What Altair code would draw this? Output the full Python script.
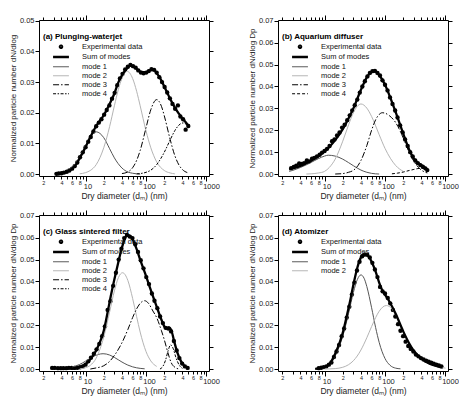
import altair as alt
import pandas as pd

FONT = "Liberation Sans"

# ---------------- Panel (a) Plunging-waterjet ----------------
A_DOT_D = [3.3, 3.6, 4.0, 4.4, 4.9, 5.4, 6.0, 6.6, 7.3, 8.1, 9.0, 10.0, 11.1, 12.2, 13.5, 15.0, 16.6,
           18.3, 20.3, 22.4, 24.8, 27.4, 30.3, 33.5, 37.0, 40.9, 45.2, 50.0, 55.2, 61.0, 67.5, 74.5,
           82.4, 91.1, 100.7, 111, 123, 136, 150, 166, 184, 203, 224, 248, 274, 303, 337, 370, 410, 452, 500]
A_DOT_Y = [0.0001, 0.0002, 0.0003, 0.0005, 0.0008, 0.0012, 0.0018, 0.0026, 0.0038, 0.0055, 0.0071,
           0.0088, 0.0106, 0.0121, 0.0139, 0.0156, 0.0168, 0.0179, 0.0194, 0.0209, 0.0224, 0.0246,
           0.0265, 0.0290, 0.0312, 0.0327, 0.0341, 0.0350, 0.0356, 0.0352, 0.0347, 0.0338, 0.0331,
           0.0329, 0.0331, 0.0336, 0.0342, 0.0340, 0.0331, 0.0316, 0.0300, 0.0284, 0.0266, 0.0247,
           0.0229, 0.0213, 0.0224, 0.0188, 0.0179, 0.0145, 0.0157]
A_SUM_D = [3.4, 4, 5, 6, 7, 8, 10, 12, 15, 20, 25, 30, 35, 40, 50, 55, 60, 70, 80, 100, 120, 135,
           150, 170, 200, 250, 300, 350, 400, 450, 510]
A_SUM_Y = [0.0001, 0.0003, 0.0009, 0.0018, 0.0032, 0.0052, 0.0088, 0.0121, 0.0157, 0.0192, 0.0229,
           0.0263, 0.0300, 0.0322, 0.0348, 0.0354, 0.0352, 0.0343, 0.0334, 0.0332, 0.0340, 0.0341,
           0.0329, 0.0314, 0.0286, 0.0246, 0.0217, 0.0197, 0.0181, 0.0170, 0.0156]
A_M1_D = [4, 5, 6, 7, 8, 10, 12, 15, 20, 25, 30, 40, 50, 60, 80]
A_M1_Y = [0.0003, 0.0010, 0.0022, 0.0038, 0.0057, 0.0094, 0.0122, 0.0138, 0.0119, 0.0083, 0.0053,
          0.0020, 0.0007, 0.0003, 0.0000]
A_M2_D = [8, 10, 12, 15, 20, 25, 30, 35, 40, 49, 60, 70, 80, 100, 120, 150, 200, 250, 300]
A_M2_Y = [0.0001, 0.0005, 0.0012, 0.0031, 0.0086, 0.0155, 0.0223, 0.0277, 0.0312, 0.0335, 0.0312,
          0.0270, 0.0223, 0.0141, 0.0086, 0.0040, 0.0012, 0.0004, 0.0001]
A_M3_D = [40, 50, 60, 70, 80, 100, 120, 150, 180, 200, 250, 300, 350, 400, 500]
A_M3_Y = [0.0002, 0.0007, 0.0021, 0.0045, 0.0077, 0.0151, 0.0210, 0.0243, 0.0221, 0.0191, 0.0114,
          0.0060, 0.0030, 0.0015, 0.0004]
A_M4_D = [70, 80, 100, 120, 150, 200, 250, 300, 350, 410, 480]
A_M4_Y = [0.0001, 0.0002, 0.0006, 0.0013, 0.0031, 0.0071, 0.0111, 0.0142, 0.0160, 0.0167, 0.0160]

# ---------------- Panel (b) Aquarium diffuser ----------------
B_DOT_D = [2.8, 3.1, 3.4, 3.8, 4.2, 4.6, 5.1, 5.6, 6.2, 6.8, 7.5, 8.3, 9.1, 10.0, 11.0, 12.1, 13.3,
           14.6, 16.1, 17.7, 19.5, 21.5, 23.7, 26.1, 28.7, 31.6, 34.8, 38.3, 42.2, 46.4, 51.1, 56.2,
           61.9, 68.1, 75.0, 82.5, 90.8, 100, 110, 121, 133, 147, 161, 178, 196, 215, 237, 261, 287,
           316, 348, 383, 422, 464, 500]
B_DOT_Y = [0.0027, 0.0033, 0.0038, 0.0048, 0.0046, 0.0050, 0.0062, 0.0058, 0.0070, 0.0074, 0.0080,
           0.0088, 0.0098, 0.0105, 0.0115, 0.0128, 0.0150, 0.0158, 0.0176, 0.0190, 0.0212, 0.0225,
           0.0246, 0.0268, 0.0290, 0.0314, 0.0340, 0.0372, 0.0400, 0.0424, 0.0446, 0.0462, 0.0470,
           0.0471, 0.0462, 0.0450, 0.0428, 0.0408, 0.0382, 0.0350, 0.0320, 0.0290, 0.0258, 0.0222,
           0.0190, 0.0158, 0.0128, 0.0100, 0.0080, 0.0062, 0.0050, 0.0041, 0.0034, 0.0026, 0.0018]
B_SUM_D = [2.6, 3, 4, 5, 6, 8, 10, 12, 15, 20, 25, 30, 40, 50, 60, 65, 70, 80, 100, 120, 150, 200,
           250, 300, 400, 500]
B_SUM_Y = [0.0021, 0.0026, 0.0037, 0.0049, 0.0061, 0.0083, 0.0104, 0.0124, 0.0155, 0.0205, 0.0255,
           0.0300, 0.0385, 0.0442, 0.0467, 0.0471, 0.0469, 0.0452, 0.0408, 0.0355, 0.0283, 0.0185,
           0.0112, 0.0070, 0.0040, 0.0022]
B_M1_D = [2.6, 3, 4, 5, 6, 8, 10, 11.5, 15, 20, 25, 30, 40, 50, 60, 80]
B_M1_Y = [0.0012, 0.0017, 0.0030, 0.0042, 0.0053, 0.0071, 0.0082, 0.0086, 0.0082, 0.0068, 0.0052,
          0.0038, 0.0018, 0.0008, 0.0003, 0.0000]
B_M2_D = [5, 6, 8, 10, 12, 15, 20, 25, 30, 40, 50, 60, 80, 100, 150, 200]
B_M2_Y = [0.0000, 0.0001, 0.0005, 0.0012, 0.0030, 0.0068, 0.0150, 0.0225, 0.0280, 0.0320, 0.0301,
          0.0263, 0.0180, 0.0117, 0.0039, 0.0012]
B_M3_D = [15, 20, 25, 30, 36, 40, 50, 60, 70, 80, 90, 100, 120, 150, 200, 250, 300, 400, 500]
B_M3_Y = [0.0000, 0.0002, 0.0008, 0.0017, 0.0040, 0.0062, 0.0130, 0.0200, 0.0248, 0.0272, 0.0280,
          0.0278, 0.0265, 0.0235, 0.0165, 0.0100, 0.0058, 0.0018, 0.0005]
B_M4_D = [130, 160, 200, 250, 300, 350, 400, 450, 500]
B_M4_Y = [0.0001, 0.0004, 0.0009, 0.0016, 0.0021, 0.0025, 0.0026, 0.0025, 0.0022]

# ---------------- Panel (c) Glass sintered filter ----------------
C_DOT_D = [2.8, 3.1, 3.5, 3.9, 4.3, 4.8, 5.3, 5.9, 6.6, 7.3, 8.1, 9.0, 10.0, 11.1, 12.3, 13.7, 15.2,
           16.9, 18.8, 20.9, 23.2, 25.8, 28.6, 31.8, 35.3, 39.2, 43.6, 48.4, 53.8, 59.7, 66.3, 73.7,
           81.8, 90.9, 101, 112, 125, 138, 154, 171, 190, 211, 234, 260, 289, 321, 356, 396, 440, 488]
C_DOT_Y = [0.0005, 0.0005, 0.0004, 0.0004, 0.0004, 0.0004, 0.0005, 0.0005, 0.0005, 0.0006, 0.0008,
           0.0012, 0.0020, 0.0035, 0.0052, 0.0070, 0.0090, 0.0115, 0.0150, 0.0195, 0.0270, 0.0310,
           0.0380, 0.0440, 0.0500, 0.0550, 0.0598, 0.0612, 0.0605, 0.0598, 0.0570, 0.0535, 0.0497,
           0.0460, 0.0420, 0.0388, 0.0345, 0.0312, 0.0278, 0.0240, 0.0210, 0.0188, 0.0185, 0.0172,
           0.0128, 0.0085, 0.0050, 0.0025, 0.0012, 0.0005]
C_SUM_D = [6, 8, 10, 12, 15, 18, 20, 23, 26, 30, 35, 40, 45, 50, 55, 60, 70, 80, 100, 120, 150, 180,
           200, 215, 240, 260, 290, 330, 380, 430, 500]
C_SUM_Y = [0.0002, 0.0008, 0.0022, 0.0045, 0.0085, 0.0135, 0.0175, 0.0255, 0.0330, 0.0410, 0.0490,
           0.0555, 0.0598, 0.0612, 0.0607, 0.0592, 0.0548, 0.0500, 0.0425, 0.0360, 0.0285, 0.0225,
           0.0195, 0.0185, 0.0190, 0.0180, 0.0130, 0.0075, 0.0035, 0.0015, 0.0006]
C_M1_D = [6, 8, 10, 13, 16, 19.5, 25, 30, 40, 50, 60, 80, 95]
C_M1_Y = [0.0009, 0.0021, 0.0036, 0.0055, 0.0066, 0.0070, 0.0064, 0.0053, 0.0032, 0.0018, 0.0010,
          0.0003, 0.0001]
C_M2_D = [8, 10, 12, 15, 20, 25, 30, 35, 41, 50, 60, 70, 80, 100, 120, 150]
C_M2_Y = [0.0001, 0.0006, 0.0017, 0.0050, 0.0146, 0.0260, 0.0357, 0.0418, 0.0440, 0.0405, 0.0323,
          0.0239, 0.0169, 0.0080, 0.0037, 0.0012]
C_M3_D = [12, 15, 20, 25, 30, 40, 50, 60, 70, 80, 95, 110, 130, 150, 180, 200, 230, 260, 300, 340]
C_M3_Y = [0.0000, 0.0005, 0.0015, 0.0035, 0.0062, 0.0120, 0.0180, 0.0235, 0.0275, 0.0300, 0.0312,
          0.0300, 0.0265, 0.0235, 0.0175, 0.0135, 0.0075, 0.0030, 0.0008, 0.0001]
C_M4_D = [170, 190, 210, 230, 255, 280, 310, 350, 400]
C_M4_Y = [0.0000, 0.0012, 0.0040, 0.0080, 0.0110, 0.0095, 0.0055, 0.0020, 0.0003]

# ---------------- Panel (d) Atomizer ----------------
D_DOT_D = [8.0, 8.8, 9.7, 10.7, 11.8, 13.0, 14.3, 15.8, 17.4, 19.2, 21.1, 23.3, 25.7, 28.3, 31.2,
           34.4, 37.9, 41.8, 46.1, 50.8, 56.0, 61.7, 68.0, 75.0, 82.7, 91.1, 100, 111, 122, 135, 148,
           164, 180, 199, 219, 242, 266, 294, 324, 357, 393, 434, 478, 527, 581, 640, 706, 778, 857]
D_DOT_Y = [0.0004, 0.0006, 0.0009, 0.0012, 0.0020, 0.0030, 0.0055, 0.0080, 0.0110, 0.0150, 0.0185,
           0.0235, 0.0285, 0.0340, 0.0395, 0.0450, 0.0490, 0.0515, 0.0523, 0.0522, 0.0510, 0.0485,
           0.0455, 0.0420, 0.0375, 0.0355, 0.0345, 0.0325, 0.0300, 0.0270, 0.0240, 0.0205, 0.0175,
           0.0150, 0.0125, 0.0105, 0.0092, 0.0080, 0.0066, 0.0058, 0.0050, 0.0044, 0.0038, 0.0034,
           0.0029, 0.0024, 0.0020, 0.0016, 0.0012]
D_SUM_D = [7, 8, 10, 12, 15, 18, 20, 23, 26, 30, 35, 40, 45, 50, 55, 60, 70, 80, 90, 100, 120, 150,
           200, 250, 300, 400, 500, 600, 800, 900]
D_SUM_Y = [0.0001, 0.0003, 0.0008, 0.0022, 0.0070, 0.0125, 0.0165, 0.0235, 0.0300, 0.0385, 0.0465,
           0.0510, 0.0525, 0.0523, 0.0510, 0.0490, 0.0445, 0.0395, 0.0360, 0.0340, 0.0305, 0.0252,
           0.0172, 0.0118, 0.0083, 0.0047, 0.0030, 0.0020, 0.0010, 0.0007]
D_M1_D = [7, 8, 10, 12, 15, 20, 25, 30, 35, 40, 45, 50, 60, 70, 80, 100, 120, 150, 180]
D_M1_Y = [0.0001, 0.0002, 0.0006, 0.0018, 0.0060, 0.0150, 0.0255, 0.0350, 0.0410, 0.0430, 0.0415,
          0.0377, 0.0280, 0.0189, 0.0122, 0.0048, 0.0018, 0.0004, 0.0001]
D_M2_D = [10, 15, 20, 25, 30, 40, 50, 60, 70, 80, 105, 130, 150, 200, 250, 300, 400, 500, 600, 800, 1000]
D_M2_Y = [0.0000, 0.0002, 0.0008, 0.0020, 0.0038, 0.0087, 0.0143, 0.0194, 0.0235, 0.0264, 0.0290,
          0.0275, 0.0248, 0.0172, 0.0117, 0.0082, 0.0046, 0.0029, 0.0019, 0.0009, 0.0004]

# ---------------- axis / style helpers ----------------
X_TICKS = [2, 3, 4, 5, 6, 7, 8, 9, 10, 20, 30, 40, 50, 60, 70, 80, 90, 100,
           200, 300, 400, 500, 600, 700, 800, 900, 1000]
X_DOMAIN = [1.7, 1100]
MAJOR = "indexof([10, 100, 1000], datum.value) >= 0"
LABEL_EXPR = ("indexof([10, 100, 1000], datum.value) >= 0 ? '' + datum.value : "
              "indexof([2, 20, 200], datum.value) >= 0 ? '2' : "
              "indexof([4, 40, 400], datum.value) >= 0 ? '4' : "
              "indexof([6, 60, 600], datum.value) >= 0 ? '6' : "
              "indexof([8, 80, 800], datum.value) >= 0 ? '8' : ''")
LABEL_SHIFT = {"condition": [{"test": "datum.value == 1000", "value": 4.5},
                             {"test": "datum.value == 100", "value": 3},
                             {"test": "datum.value == 10", "value": 2}],
               "value": 0}
XTITLE = "Dry diameter (dₘ) (nm)"
MODE_COLORS = ["#555555", "#b4b4b4", "#000000", "#000000"]
SOLID = [1, 0]
LINE_SYM = "M-3,0L3,0"
CHANNELS = dict(color="independent", shape="independent", size="independent",
                strokeWidth="independent", strokeDash="independent")


def panel(label, ytitle, ymax, ypad, dots, ssum, modes, dashes):
    xscale = alt.Scale(type="log", domain=X_DOMAIN, nice=False)
    yscale = alt.Scale(domain=[-ypad, ymax + ypad * 0.4], nice=False, zero=False)
    yvals = [round(i * 0.01, 2) for i in range(int(round(ymax / 0.01)) + 1)]
    tick_cond = {"condition": {"test": MAJOR, "value": 5}, "value": 3}
    bottom = alt.Axis(values=X_TICKS, labelExpr=LABEL_EXPR, labelOverlap=False, labelFlush=False,
                      labelFontSize={"condition": {"test": MAJOR, "value": 7.5}, "value": 5.5},
                      labelOffset=LABEL_SHIFT,
                      tickSize=tick_cond, labelPadding=1, title=XTITLE, titleFontSize=8.5,
                      titleFontWeight="normal", titlePadding=2, grid=False, domain=False)
    top = alt.Axis(orient="top", values=X_TICKS, labels=False, tickSize=tick_cond, title=None,
                   grid=False, domain=False)
    left = alt.Axis(values=yvals, format=".2f", tickSize=4, labelFontSize=7.5, labelPadding=1,
                    title=ytitle, titleFontSize=8, titleFontWeight="normal", titlePadding=2,
                    grid=False, domain=False)
    right = alt.Axis(orient="right", values=yvals, labels=False, tickSize=4, title=None,
                     grid=False, domain=False)

    layers = []
    dot_df = pd.DataFrame({"d": dots[0], "v": dots[1]})
    layers.append(alt.Chart(dot_df).mark_circle(size=19, color="black", opacity=1).encode(
        x=alt.X("d:Q", scale=xscale, axis=bottom),
        y=alt.Y("v:Q", scale=yscale, axis=left)))
    for i, (md, mv) in enumerate(modes):
        df = pd.DataFrame({"d": md, "v": mv})
        kw = dict(color=MODE_COLORS[i], strokeWidth=1, interpolate="monotone")
        if dashes[i] != SOLID:
            kw["strokeDash"] = dashes[i]
        layers.append(alt.Chart(df).mark_line(**kw).encode(
            x=alt.X("d:Q", scale=xscale, axis=None),
            y=alt.Y("v:Q", scale=yscale, axis=None)))
    sum_df = pd.DataFrame({"d": ssum[0], "v": ssum[1]})
    layers.append(alt.Chart(sum_df).mark_line(color="black", strokeWidth=2.3,
                                               interpolate="monotone").encode(
        x=alt.X("d:Q", scale=xscale, axis=top),
        y=alt.Y("v:Q", scale=yscale, axis=right)))

    # legend (built from the scales of an invisible, clipped layer)
    names = ["Experimental data", "Sum of modes"] + [f"mode {i + 1}" for i in range(len(modes))]
    n = len(names)
    colors = ["#000000", "#000000"] + MODE_COLORS[:len(modes)]
    shapes = ["circle"] + [LINE_SYM] * (n - 1)
    sizes = [7] + [28] * (n - 1)
    widths = [1.9, 2.3] + [1] * len(modes)
    dash_r = [SOLID, SOLID] + dashes
    leg = alt.Legend(title=label, orient="none", legendX=4, legendY=13, padding=0,
                     titleFont=FONT, titleFontSize=8, titleFontWeight="bold", titlePadding=2,
                     titleColor="black", titleLimit=300, labelFont=FONT, labelFontSize=7.5,
                     labelColor="#111111", labelLimit=300,
                     symbolOffset=14, labelOffset=17, rowPadding=0)
    leg_df = pd.DataFrame({"d": [0.5] * n, "v": [0.0] * n, "s": names})
    layers.append(alt.Chart(leg_df).mark_point(filled=False, clip=True, opacity=1).encode(
        x=alt.X("d:Q", scale=xscale, axis=None),
        y=alt.Y("v:Q", scale=yscale, axis=None),
        color=alt.Color("s:N", scale=alt.Scale(domain=names, range=colors), legend=leg),
        shape=alt.Shape("s:N", scale=alt.Scale(domain=names, range=shapes), legend=leg),
        size=alt.Size("s:N", scale=alt.Scale(type="ordinal", domain=names, range=sizes), legend=leg),
        strokeWidth=alt.StrokeWidth("s:N", scale=alt.Scale(type="ordinal", domain=names, range=widths),
                                    legend=leg),
        strokeDash=alt.StrokeDash("s:N", scale=alt.Scale(domain=names, range=dash_r), legend=leg)))

    return (alt.layer(*layers)
            .resolve_axis(x="independent", y="independent")
            .properties(width=170, height=156))


DD = [6, 2, 1.5, 2]
DDD = [3, 1.5, 1.5, 1.5]
YT = "Normalized particle number dN/dlog Dp"

pa = panel("(a) Plunging-waterjet", "Normalized particle number dN/dlog", 0.05, 0.0006,
           (A_DOT_D, A_DOT_Y), (A_SUM_D, A_SUM_Y),
           [(A_M1_D, A_M1_Y), (A_M2_D, A_M2_Y), (A_M3_D, A_M3_Y), (A_M4_D, A_M4_Y)],
           [SOLID, SOLID, DD, DDD])
pb = panel("(b) Aquarium diffuser", YT, 0.07, 0.0009,
           (B_DOT_D, B_DOT_Y), (B_SUM_D, B_SUM_Y),
           [(B_M1_D, B_M1_Y), (B_M2_D, B_M2_Y), (B_M3_D, B_M3_Y), (B_M4_D, B_M4_Y)],
           [SOLID, SOLID, DD, [3, 2]])
pc = panel("(c) Glass sintered filter", YT, 0.07, 0.0009,
           (C_DOT_D, C_DOT_Y), (C_SUM_D, C_SUM_Y),
           [(C_M1_D, C_M1_Y), (C_M2_D, C_M2_Y), (C_M3_D, C_M3_Y), (C_M4_D, C_M4_Y)],
           [SOLID, SOLID, DD, DDD])
pd_ = panel("(d) Atomizer", YT, 0.07, 0.0009,
            (D_DOT_D, D_DOT_Y), (D_SUM_D, D_SUM_Y),
            [(D_M1_D, D_M1_Y), (D_M2_D, D_M2_Y)],
            [SOLID, SOLID])

row1 = alt.hconcat(pa, pb, spacing=27).resolve_scale(**CHANNELS).resolve_legend(**CHANNELS)
row2 = alt.hconcat(pc, pd_, spacing=27).resolve_scale(**CHANNELS).resolve_legend(**CHANNELS)
chart = (alt.vconcat(row1, row2, spacing=8)
         .resolve_scale(**CHANNELS).resolve_legend(**CHANNELS)
         .properties(padding={"left": 0, "top": 6, "right": 0, "bottom": 0})
         .configure_view(stroke="black", strokeWidth=1)
         .configure_axis(labelFont=FONT, titleFont=FONT, labelColor="#222222", titleColor="#222222",
                         tickColor="black", tickWidth=1))

chart.save("out.html", embed_options={"renderer": "svg", "actions": False})
